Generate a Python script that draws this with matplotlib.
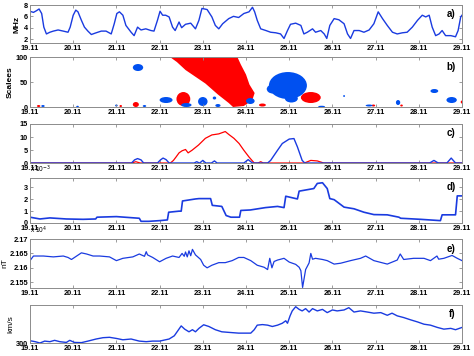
import matplotlib
matplotlib.use("Agg")
import matplotlib.pyplot as plt
from matplotlib.patches import Ellipse, Polygon

plt.rcParams['font.family'] = ['Liberation Sans', 'DejaVu Sans']

# x axis: day of November
day_ticks = list(range(19, 30))
day_labels = [f"{d}.11" for d in day_ticks]

# a) frequency, MHz
a_t = [19.00, 19.08, 19.15, 19.21, 19.27, 19.32, 19.38, 19.46, 19.54, 19.65, 19.77, 19.88, 19.93,
       20.00, 20.06, 20.11, 20.19, 20.26, 20.34, 20.42, 20.53, 20.65, 20.76, 20.88, 20.95,
       21.01, 21.07, 21.15, 21.22, 21.34, 21.41, 21.49, 21.57, 21.68, 21.80, 21.87, 21.95,
       22.01, 22.07, 22.14, 22.22, 22.30, 22.36, 22.45, 22.51, 22.60, 22.72, 22.83, 22.91,
       22.98, 23.10, 23.21, 23.29, 23.37, 23.46, 23.60, 23.71, 23.83, 23.95,
       24.07, 24.15, 24.20, 24.26, 24.34, 24.46, 24.57, 24.69, 24.80, 24.88, 24.96,
       25.03, 25.15, 25.27, 25.34, 25.42, 25.54, 25.61, 25.73, 25.81, 25.87, 25.94,
       26.04, 26.15, 26.27, 26.35, 26.42, 26.50, 26.62, 26.73, 26.85, 26.96,
       27.06, 27.16, 27.27, 27.39, 27.50, 27.62, 27.73, 27.85, 27.97,
       28.08, 28.16, 28.24, 28.31, 28.39, 28.47, 28.54, 28.62, 28.74, 28.85, 28.91, 28.97, 29.00]
a_v = [6.9, 6.7, 7.0, 7.3, 6.5, 4.1, 2.9, 3.2, 3.4, 3.6, 3.4, 3.2, 4.1,
       6.2, 7.1, 6.8, 5.3, 4.1, 3.4, 2.8, 3.1, 3.4, 3.4, 2.9, 4.7,
       6.5, 6.8, 6.2, 4.4, 3.2, 2.6, 4.1, 3.6, 3.8, 3.5, 3.4, 5.3,
       6.9, 6.2, 6.2, 5.9, 4.1, 3.5, 5.0, 4.0, 4.6, 4.8, 3.8, 5.3,
       7.4, 7.2, 5.9, 4.4, 3.8, 4.7, 5.6, 6.0, 5.8, 6.5,
       6.8, 7.6, 6.8, 5.3, 3.8, 3.5, 3.2, 3.1, 2.9, 2.1, 3.5,
       4.6, 4.8, 4.4, 2.9, 3.2, 3.8, 3.2, 3.5, 2.9, 2.1, 4.4,
       5.6, 5.4, 4.7, 2.9, 2.1, 3.5, 3.5, 3.2, 3.6, 4.7,
       6.8, 5.6, 4.4, 3.2, 2.9, 3.1, 3.2, 4.1, 5.3,
       6.2, 5.9, 6.2, 4.1, 2.6, 2.9, 3.5, 2.6, 2.6, 2.4, 3.5, 5.9, 6.2]

# b) scalogram blobs: (day, scale, half width in days, half height in scales)
red_band = [(22.24, 100), (23.80, 100), (23.88, 85), (24.00, 65), (24.08, 45), (24.20, 28),
            (24.15, 15), (24.05, 8), (23.95, 2), (23.70, 0), (23.60, 8), (23.35, 25),
            (23.06, 47), (22.60, 74), (22.40, 90)]
red_blobs = [(22.55, 16, 0.16, 14), (24.38, 4, 0.08, 3), (25.50, 19, 0.23, 11),
             (19.20, 2, 0.04, 2), (21.10, 2, 0.03, 2), (21.45, 5, 0.07, 5),
             (26.95, 3, 0.04, 2), (27.60, 3, 0.03, 2), (29.00, 10, 0.03, 3)]
blue_blobs = [(21.50, 79, 0.12, 7), (22.15, 14, 0.15, 6), (22.62, 4, 0.12, 4),
              (23.00, 11, 0.11, 9), (23.27, 18, 0.04, 3), (23.35, 3, 0.06, 3),
              (24.10, 12, 0.10, 6), (24.97, 43, 0.44, 27), (25.05, 17, 0.15, 8),
              (24.62, 36, 0.14, 9),
              (19.30, 2, 0.04, 2), (20.10, 1, 0.03, 1.5), (21.00, 3, 0.03, 2),
              (21.65, 2, 0.04, 2), (25.75, 1, 0.08, 1.5), (26.27, 22, 0.02, 2),
              (26.85, 3, 0.08, 2), (27.52, 9, 0.05, 5), (28.36, 32, 0.09, 4),
              (28.76, 14, 0.12, 6)]

# c) red and blue curves
c_red_t = [19.0, 21.35, 21.45, 21.55, 22.25, 22.32, 22.38, 22.45, 22.52, 22.60, 22.66, 22.75,
           22.90, 23.06, 23.21, 23.37, 23.52, 23.60, 23.72, 23.84, 23.95, 24.07, 24.19,
           24.28, 24.34, 24.40, 25.35, 25.50, 25.65, 25.80, 29.0]
c_red_v = [0, 0, 0.5, 0, 0, 1.0, 2.3, 3.9, 4.7, 5.2, 3.9, 4.9,
           6.9, 9.5, 10.8, 11.2, 12.1, 11.0, 9.5, 7.5, 4.9, 2.3, 0,
           0, 0.5, 0, 0, 1.0, 0.8, 0, 0]
c_blue_t = [19.0, 21.35, 21.42, 21.49, 21.57, 21.63, 21.95, 22.02, 22.08, 22.15, 22.22,
            22.80, 22.86, 22.92, 22.93, 23.00, 23.07, 23.20, 23.27, 23.33, 23.95, 24.05, 24.15,
            24.50, 24.57, 24.73, 24.84, 25.00, 25.11, 25.19, 25.30, 25.36,
            28.25, 28.35, 28.45, 28.65, 28.75, 28.85, 29.0]
c_blue_v = [0, 0, 1.2, 1.7, 1.2, 0, 0, 1.2, 1.9, 1.3, 0,
            0, 0.5, 0, 0, 1.0, 0, 0, 0.8, 0, 0, 1.3, 0,
            0, 1.0, 4.9, 7.5, 9.2, 9.4, 6.2, 1.0, 0,
            0, 1.0, 0, 0, 1.9, 0, 0]

# d) values in units of 1e-3
d_t = [19.0, 19.23, 19.46, 19.84, 20.23, 20.52, 20.55, 21.0, 21.34, 21.53, 21.57, 21.75,
       22.0, 22.18, 22.21, 22.45, 22.5, 22.53, 22.83, 22.91, 23.18, 23.22, 23.44, 23.54, 23.65,
       23.85, 23.88, 24.1, 24.45, 24.73, 24.88, 24.92, 25.19, 25.23, 25.57, 25.65, 25.77,
       25.88, 25.94, 26.04, 26.27, 26.5, 26.73, 26.96, 27.27, 27.54, 27.58, 28.04, 28.5,
       28.54, 28.85, 28.89, 29.0]
d_v = [0.49, 0.34, 0.43, 0.34, 0.31, 0.34, 0.49, 0.54, 0.45, 0.40, 0.14, 0.14,
       0.20, 0.26, 0.91, 1.0, 1.0, 1.86, 2.03, 2.06, 2.06, 1.49, 1.40, 0.63, 0.49,
       0.49, 1.06, 1.10, 1.30, 1.40, 1.30, 2.26, 2.03, 2.69, 2.91, 3.34, 3.40,
       2.91, 2.06, 1.97, 1.34, 1.20, 0.91, 0.71, 0.69, 0.49, 0.40, 0.31, 0.20,
       0.69, 0.69, 2.29, 2.29]

# e) field, units of 1e4 nT
e_t = [19.0, 19.08, 19.31, 19.54, 19.77, 19.88, 19.96, 20.03, 20.19, 20.31, 20.46, 20.61,
       20.84, 21.0, 21.15, 21.38, 21.53, 21.65, 21.69, 21.72, 21.84, 22.0, 22.15, 22.3,
       22.45, 22.52, 22.57, 22.6, 22.64, 22.68, 22.72, 22.76, 22.83, 22.95, 23.02,
       23.10, 23.21, 23.37, 23.52, 23.68, 23.83, 23.95, 24.11, 24.26, 24.42,
       24.50, 24.55, 24.60, 24.65, 24.73, 24.88, 25.0, 25.15, 25.23, 25.27, 25.31,
       25.38, 25.46, 25.50, 25.54, 25.61, 25.77, 25.88, 26.04, 26.19, 26.42, 26.65,
       26.77, 26.96, 27.27, 27.50, 27.57, 27.65, 27.88, 28.12, 28.27, 28.42, 28.46,
       28.58, 28.77, 28.89, 29.0]
e_v = [2.1625, 2.1641, 2.1641, 2.1638, 2.1641, 2.1636, 2.1629, 2.1636, 2.1652, 2.1648, 2.1641, 2.1641,
       2.1638, 2.1625, 2.1633, 2.1638, 2.1648, 2.1640, 2.1656, 2.1645, 2.1636, 2.1621, 2.1633, 2.1641,
       2.1636, 2.1650, 2.1640, 2.1655, 2.1638, 2.1659, 2.1642, 2.1664, 2.1645, 2.1629, 2.1609,
       2.1600, 2.1609, 2.1618, 2.1618, 2.1625, 2.1636, 2.1636, 2.1625, 2.1609, 2.1602,
       2.1594, 2.1633, 2.1600, 2.1622, 2.1627, 2.1633, 2.1620, 2.1612, 2.1602, 2.1590, 2.1532,
       2.1594, 2.1617, 2.1650, 2.1630, 2.1633, 2.1629, 2.1625, 2.1613, 2.1616, 2.1625, 2.1633,
       2.1641, 2.1625, 2.1613, 2.1627, 2.1648, 2.1629, 2.1633, 2.1633, 2.1625, 2.1641, 2.1630,
       2.1633, 2.1643, 2.1633, 2.1625]

# f) speed, km/s
f_t = [19.0, 19.12, 19.23, 19.34, 19.46, 19.57, 19.69, 19.84, 19.92, 20.03, 20.19, 20.34,
       20.53, 20.69, 20.84, 21.0, 21.15, 21.34, 21.53, 21.69, 21.84, 22.0, 22.22, 22.34,
       22.42, 22.50, 22.58, 22.68, 22.76, 22.83, 22.91, 23.02, 23.14, 23.29, 23.44, 23.60,
       23.83, 24.11, 24.19, 24.26, 24.38, 24.50, 24.61, 24.73, 24.84, 24.92, 24.96, 25.02,
       25.07, 25.15, 25.23, 25.30, 25.38, 25.46, 25.54, 25.65, 25.77, 25.88, 26.0, 26.11,
       26.27, 26.38, 26.50, 26.65, 26.81, 26.96, 27.12, 27.27, 27.38, 27.50, 27.65, 27.81,
       27.97, 28.12, 28.27, 28.43, 28.58, 28.74, 28.85, 29.0]
f_v = [312, 307, 300, 310, 307, 314, 307, 303, 314, 303, 302, 310,
       321, 328, 330, 324, 317, 321, 310, 307, 310, 310, 321, 338,
       364, 390, 373, 359, 370, 359, 377, 396, 387, 370, 359, 356,
       352, 352, 370, 394, 397, 394, 387, 394, 404, 417, 404, 443,
       469, 491, 477, 469, 481, 463, 481, 469, 477, 460, 474, 469,
       474, 486, 463, 469, 463, 457, 460, 446, 457, 443, 434, 422,
       411, 399, 394, 382, 373, 377, 370, 382]

line_blue = '#1a3be0'
frame_col = '#8c8c8c'

fig = plt.figure(figsize=(4.74, 3.56), dpi=100)
boxes = [(0.8792, 0.1067), (0.6994, 0.1404), (0.5421, 0.1096),
         (0.3736, 0.1264), (0.1910, 0.1376), (0.0365, 0.1067)]
axes = [fig.add_axes([0.0633, y0, 0.9114, h]) for y0, h in boxes]

for ax in axes:
    ax.set_xlim(19, 29)
    ax.set_xticks(day_ticks)
    ax.set_xticklabels(day_labels)
    ax.tick_params(direction='in', top=True, right=True, length=2.5, width=0.6,
                   color=frame_col, labelsize=5.3, pad=1.5)
    for s in ax.spines.values():
        s.set_color(frame_col)
        s.set_linewidth(0.7)

ax = axes[0]
ax.plot(a_t, a_v, color=line_blue, lw=1.0)
ax.set_ylim(1.3, 8)
ax.set_yticks([2, 4, 6, 8])
ax.set_ylabel('MHz', fontsize=6, fontweight='bold')
ax.yaxis.set_label_coords(-0.021, 0.5)

ax = axes[1]
ax.add_patch(Polygon(red_band, closed=True, facecolor='#ff0000', edgecolor='none'))
for x, y, hw, hh in red_blobs:
    ax.add_patch(Ellipse((x, y), 2 * hw, 2 * hh, facecolor='#ff0000', edgecolor='none'))
for x, y, hw, hh in blue_blobs:
    ax.add_patch(Ellipse((x, y), 2 * hw, 2 * hh, facecolor='#0050f0', edgecolor='none'))
ax.set_ylim(0, 100)
ax.set_yticks([0, 50, 100])
ax.set_ylabel('Scalees', fontsize=6, fontweight='bold')
ax.yaxis.set_label_coords(-0.037, 0.5)

ax = axes[2]
ax.plot(c_red_t, c_red_v, color='#ff0000', lw=0.9)
ax.plot(c_blue_t, c_blue_v, color=line_blue, lw=1.0)
ax.set_ylim(0, 15)
ax.set_yticks([0, 5, 10, 15])

ax = axes[3]
ax.plot(d_t, d_v, color=line_blue, lw=1.2)
ax.set_ylim(0, 3.8)
ax.set_yticks([0, 1, 2, 3])
ax.text(0.0, 1.07, r'x 10$^{-3}$', transform=ax.transAxes, fontsize=4.8, ha='left', va='bottom')

ax = axes[4]
ax.plot(e_t, e_v, color=line_blue, lw=0.9)
ax.set_ylim(2.153, 2.170)
ax.set_yticks([2.155, 2.16, 2.165, 2.17])
ax.set_yticklabels(['2.155', '2.16', '2.165', '2.17'])
ax.text(0.0, 1.06, r'x 10$^{4}$', transform=ax.transAxes, fontsize=4.8, ha='left', va='bottom')
ax.set_ylabel('nT', fontsize=6)
ax.yaxis.set_label_coords(-0.051, 0.5)

ax = axes[5]
ax.plot(f_t, f_v, color=line_blue, lw=1.0)
ax.set_ylim(300, 500)
ax.set_yticks([300])
ax.set_ylabel('km/s', fontsize=6)
ax.yaxis.set_label_coords(-0.037, 0.5)

for ax in axes:
    for lab in ax.get_xticklabels() + ax.get_yticklabels():
        lab.set_fontweight('bold')

for ax, lab in zip(axes, ['a)', 'b)', 'c)', 'd)', 'e)', 'f)']):
    ax.text(0.985, 0.9, lab, transform=ax.transAxes, fontsize=7, fontweight='bold',
            ha='right', va='top')

fig.savefig('out.png', dpi=100)
